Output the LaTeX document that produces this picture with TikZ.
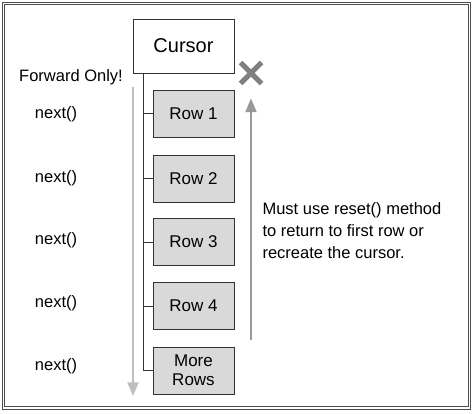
\documentclass[tikz,border=0pt]{standalone}
\usepackage{fontspec}
\setmainfont{Liberation Sans}
\usetikzlibrary{arrows,shapes.misc}

\begin{document}
\begin{tikzpicture}[x = 1pt, y = -1pt]
\useasboundingbox (0, 0) rectangle (474, 414);
%\draw[very thin, color = gray](0, 0) grid[step = 20] (474, 414);
\tikzstyle{block} = [draw = black!80, rectangle, fill = black!15, align = center,
  minimum width = 81pt, minimum height = 47pt, inner sep = 1pt,
  font = \fontsize{17}{19}\selectfont];
\tikzstyle{line} = [draw, black!80, thin]
\tikzstyle{flow} = [draw, -triangle 45, line width = 2.2pt]
\tikzstyle{label} = [align = left, font = \fontsize{16.5}{22}\selectfont]
\draw [black!70, line width = 0.9pt, double, double distance = 1.6pt] (3.5, 3.5) rectangle (469.5, 408);
\node [block, fill = white, minimum width = 101pt, minimum height = 54pt,
  font = \fontsize{20}{22}\selectfont] at (183.5, 46) (cursor) {Cursor};
\node [block] at (193.5, 113.5) (rowone) {Row 1};
\node [block] at (193.5, 178.5) (rowtwo) {Row 2};
\node [block] at (193.5, 242) (rowthree) {Row 3};
\node [block] at (193.5, 306) (rowfour) {Row 4};
\node [block] at (193.5, 370.5) (more) {More\\Rows};
\coordinate (trunk) at (143, 73);
\path [line] (trunk) |- (more);
\path [line] (rowone -| trunk) -- (rowone);
\path [line] (rowtwo -| trunk) -- (rowtwo);
\path [line] (rowthree -| trunk) -- (rowthree);
\path [line] (rowfour -| trunk) -- (rowfour);
\coordinate (fwdtop) at (133, 87);
\coordinate (fwdend) at (133, 396);
\path [flow, black!25] (fwdtop) -- (fwdend);
\coordinate (resetstart) at (251, 340);
\node [cross out, draw = black!50, line width = 5pt, minimum size = 16pt,
  inner sep = 0pt] at (251, 73) (cross) {};
\path [flow, black!40] (resetstart) -- ([yshift = -15pt]cross.south);
\node at (71, 77) (forward) [label] {Forward Only!};
\node at (56, 114) (nextone) [label] {next()};
\node at (56, 178) (nexttwo) [label] {next()};
\node at (56, 240.5) (nextthree) [label] {next()};
\node at (56, 303) (nextfour) [label] {next()};
\node at (56, 366) (nextfive) [label] {next()};
\node at (259, 231) [label, anchor = west] (reset) {Must use reset() method\\to return to first row or\\recreate the cursor.};
\end{tikzpicture}
\end{document}
